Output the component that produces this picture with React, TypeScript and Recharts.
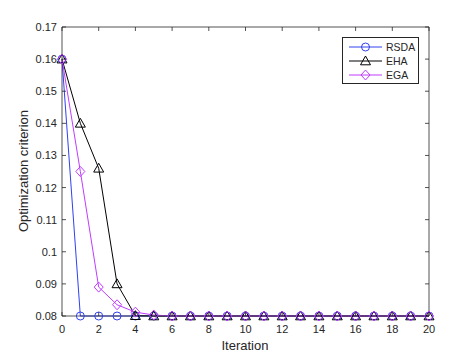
import React from 'react';
import { LineChart, Line, XAxis, YAxis, Legend } from 'recharts';

const iterations = [0,1,2,3,4,5,6,7,8,9,10,11,12,13,14,15,16,17,18,19,20];
const rsda = [0.16,0.08,0.08,0.08,0.08,0.08,0.08,0.08,0.08,0.08,0.08,0.08,0.08,0.08,0.08,0.08,0.08,0.08,0.08,0.08,0.08];
const eha = [0.16,0.14,0.126,0.09,0.0801,0.08,0.08,0.08,0.08,0.08,0.08,0.08,0.08,0.08,0.08,0.08,0.08,0.08,0.08,0.08,0.08];
const ega = [0.16,0.125,0.089,0.0835,0.0812,0.0803,0.08,0.08,0.08,0.08,0.08,0.08,0.08,0.08,0.08,0.08,0.08,0.08,0.08,0.08,0.08];
const xTicks = [0,2,4,6,8,10,12,14,16,18,20];
const yTicks = [0.08,0.09,0.1,0.11,0.12,0.13,0.14,0.15,0.16,0.17];
const seriesNames = ['RSDA','EHA','EGA'];

const BLUE = '#3040f0';
const BLACK = '#000000';
const MAG = '#c03cff';
const AX = '#262626';
const FONT = 'Liberation Sans, Arial, sans-serif';

const data = iterations.map((it, i) => ({ it, rsda: rsda[i], eha: eha[i], ega: ega[i] }));

const fmtY = (v: number) => String(Number(v.toFixed(2)));

const circle = (cx: number, cy: number, c: string, k?: any) => (
  <circle key={k} cx={cx} cy={cy} r={4} fill="none" stroke={c} strokeWidth={1} />
);
const tri = (cx: number, cy: number, c: string, k?: any) => (
  <polygon key={k} points={`${cx},${cy - 5} ${cx - 5},${cy + 3.8} ${cx + 5},${cy + 3.8}`} fill="none" stroke={c} strokeWidth={1} />
);
const dia = (cx: number, cy: number, c: string, k?: any) => (
  <polygon key={k} points={`${cx},${cy - 5} ${cx + 4.5},${cy} ${cx},${cy + 5} ${cx - 4.5},${cy}`} fill="none" stroke={c} strokeWidth={1} />
);

const BottomTick = (p: any) => (
  <g>
    <line x1={p.x} x2={p.x} y1={p.y} y2={p.y - 4} stroke={AX} strokeWidth={0.8} />
    <text x={p.x} y={p.y + 17} textAnchor="middle" fontSize={11} fill={AX} fontFamily={FONT}>{p.payload.value}</text>
  </g>
);
const TopTick = (p: any) => (
  <line x1={p.x} x2={p.x} y1={p.y} y2={p.y + 4} stroke={AX} strokeWidth={0.8} />
);
const LeftTick = (p: any) => (
  <g>
    <line x1={p.x} x2={p.x + 4} y1={p.y} y2={p.y} stroke={AX} strokeWidth={0.8} />
    <text x={p.x - 5} y={p.y + 4} textAnchor="end" fontSize={11} fill={AX} fontFamily={FONT}>{fmtY(p.payload.value)}</text>
  </g>
);
const RightTick = (p: any) => (
  <line x1={p.x} x2={p.x - 4} y1={p.y} y2={p.y} stroke={AX} strokeWidth={0.8} />
);

const LegendBox = () => {
  const rows = [
    { name: seriesNames[0], c: BLUE, m: circle },
    { name: seriesNames[1], c: BLACK, m: tri },
    { name: seriesNames[2], c: MAG, m: dia },
  ];
  return (
    <svg width={78} height={48} style={{ display: 'block' }}>
      <rect x={0.5} y={0.5} width={76} height={46} fill="#fff" stroke={AX} strokeWidth={1} />
      {rows.map((r, i) => {
        const y = 10 + i * 14;
        return (
          <g key={r.name}>
            <line x1={7} x2={40} y1={y} y2={y} stroke={r.c} strokeWidth={1} />
            {r.m(23.5, y, r.c)}
            <text x={44} y={y + 4} fontSize={10.5} fill={AX} fontFamily={FONT}>{r.name}</text>
          </g>
        );
      })}
    </svg>
  );
};

export default function App() {
  return (
    <div style={{ position: 'absolute', left: 0, top: 0, width: 474, height: 355, background: '#fff' }}>
      <LineChart width={474} height={355} data={data} margin={{ top: 26, right: 44, bottom: 0, left: 0 }}>
        <XAxis
          dataKey="it"
          type="number"
          domain={[0, 20]}
          ticks={xTicks}
          height={39}
          tickLine={false}
          tickSize={0}
          tickMargin={0}
          tick={BottomTick}
          axisLine={{ stroke: AX, strokeWidth: 0.8 }}
          interval={0}
          label={{
            content: () => (
              <text x={245} y={350} textAnchor="middle" fontSize={13} fill={AX} fontFamily={FONT}>Iteration</text>
            ),
          }}
        />
        <XAxis
          xAxisId="top"
          orientation="top"
          dataKey="it"
          type="number"
          domain={[0, 20]}
          ticks={xTicks}
          height={1}
          tickLine={false}
          tickSize={0}
          tickMargin={0}
          tick={TopTick}
          interval={0}
          axisLine={{ stroke: AX, strokeWidth: 0.8 }}
        />
        <YAxis
          type="number"
          domain={[0.08, 0.17]}
          ticks={yTicks}
          width={62}
          tickLine={false}
          tickSize={0}
          tickMargin={0}
          tick={LeftTick}
          interval={0}
          axisLine={{ stroke: AX, strokeWidth: 0.8 }}
          label={{
            content: () => (
              <text x={28} y={171} transform="rotate(-90, 28, 171)" textAnchor="middle" fontSize={13} fill={AX} fontFamily={FONT}>Optimization criterion</text>
            ),
          }}
        />
        <YAxis
          yAxisId="right"
          orientation="right"
          type="number"
          domain={[0.08, 0.17]}
          ticks={yTicks}
          width={1}
          tickLine={false}
          tickSize={0}
          tickMargin={0}
          tick={RightTick}
          interval={0}
          axisLine={{ stroke: AX, strokeWidth: 0.8 }}
        />
        <Legend
          verticalAlign="middle"
          align="center"
          layout="vertical"
          content={() => <LegendBox />}
          wrapperStyle={{ position: 'absolute', left: 342, top: 37, width: 78, height: 48 }}
        />
        <Line
          dataKey="rsda"
          xAxisId="top"
          yAxisId="right"
          stroke="none"
          strokeWidth={0}
          dot={false}
          activeDot={false}
          legendType="none"
          isAnimationActive={false}
        />
        <Line
          dataKey="rsda"
          name={seriesNames[0]}
          stroke={BLUE}
          strokeWidth={1}
          isAnimationActive={false}
          dot={(p: any) => circle(p.cx, p.cy, BLUE, `r${p.index}`)}
          activeDot={false}
        />
        <Line
          dataKey="eha"
          name={seriesNames[1]}
          stroke={BLACK}
          strokeWidth={1}
          isAnimationActive={false}
          dot={(p: any) => tri(p.cx, p.cy, BLACK, `e${p.index}`)}
          activeDot={false}
        />
        <Line
          dataKey="ega"
          name={seriesNames[2]}
          stroke={MAG}
          strokeWidth={1}
          isAnimationActive={false}
          dot={(p: any) => dia(p.cx, p.cy, MAG, `g${p.index}`)}
          activeDot={false}
        />
      </LineChart>
    </div>
  );
}
